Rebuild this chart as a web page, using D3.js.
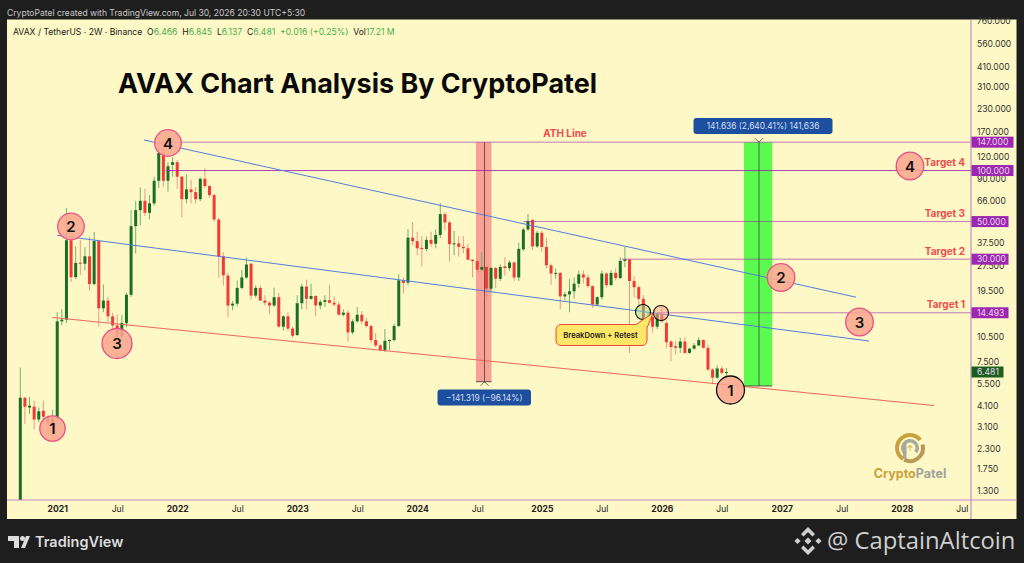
<!DOCTYPE html>
<html>
<head>
<meta charset="utf-8">
<script src="https://cdn.jsdelivr.net/npm/d3@7"></script>
<style>
  body { margin: 0; background: #1e1e1e; }
  svg { display: block; font-family: Inter, "Liberation Sans", sans-serif; }
</style>
</head>
<body>
<svg id="chart" width="1024" height="563"></svg>
<script>
// AVAX / USDT 2W candles
const opens = [1.0,4.57,4.0,4.05,3.4,3.83,3.53,3.22,3.47,12.9,13.2,38.8,23.5,28.6,28.2,31.2,21.4,38.4,15.4,17.1,13.8,12.2,10.5,12.6,18.5,47,58.4,66.3,56.3,64,87,127,87,108,112,92,67.8,77.4,74.6,67.8,89.4,81,71.6,51.4,31.2,24,16,16.4,20.3,23.4,28.2,18.3,20.3,17.1,16.6,16,17.9,12,13.8,11.7,10.7,16.5,20.7,17.5,18.2,16,16.8,17.2,16.6,16.2,14.1,14.5,11.1,12.9,14.1,12.9,12.1,10,9.3,8.7,9.9,10,12.1,22.5,21.8,40.2,38.3,35,34.4,39,37,41.7,55.3,49.4,36.8,37.2,35.5,34.8,29.8,29.2,26,27,20.1,26.6,23,27.2,26.6,28.7,23.4,34.3,44.9,51,35.7,42.9,35.4,27.6,24.7,24.9,18.1,18.6,19.4,21.5,24.4,23.4,20.8,16.2,17.9,24.7,21.1,24.9,23.2,29.3,29.9,22.3,20.5,17.5,13.2,13.7,12,14.3,12.6,9.8,9.2,9,9.8,8.4,8.9,9.3,10,9,6.7,6,6.8,6.466];
const highs = [6.88,4.6,4.62,4.39,4.0,4.39,3.6,3.88,14.6,15.2,60,40.5,35.7,38.8,35.3,40.6,43.4,39,21.3,18,14.5,14.2,14,19,58.4,66.3,79.5,78,71.6,92,147,145,112,120,115,93,95,88,80,91,103,82,73,52.6,33,25,17,22.5,26,30.7,28.5,21,21,18.4,17,20.4,19,14,14.6,12,18.4,21.5,22.7,21.5,18.4,17.3,18.4,21.2,18.1,16.8,15.2,15,13.3,15.7,14.8,13.5,12.3,11,9.5,11.6,10.1,12.5,24.4,23.4,45.2,49.6,43.5,41,41,43.5,45,64.5,57,50.5,44,41,41,37,30,30,33,27.5,27,27,28,30.7,29.6,29,37.6,46,55.3,52,44,44,40,28.2,26.4,25.2,19.2,23,23.4,25.8,25.8,24.4,21,18.1,25.6,25,25.8,26.5,30.9,35.4,30,23.8,21,18.4,14.6,14.3,14.6,15.8,13,10,9.9,10.3,10.4,9,9.6,10.4,10.1,9.4,6.8,7.1,7,6.845];
const lows = [0.9,3.2,3.67,2.97,3.27,3.33,2.8,2.72,3.2,12.2,12.6,22,22.9,24.1,25.8,19.6,21,12,14.6,12.8,11.4,9.5,9.9,11.9,18,32.4,47.5,54,51.4,62,79,80,75,92,78,53,64,64,64,66,79,69,50,23.4,21,13.6,15,15.8,20,23,17.4,17.8,17.1,16,14.3,15.7,11.9,11.4,11.3,10.4,10.6,15.2,15.2,17.3,13.8,15.2,15.7,16.4,15.8,14,13.8,9.8,10.8,12.7,12.4,11.9,9.6,9.1,8.6,8.5,8.7,9.8,11.9,18.8,21,36.2,31.6,27.2,33.5,35.5,34.8,40,44.5,29,31.6,31,32.5,29.6,23.4,25,25.5,17.1,19.4,20.3,22.3,24,25.6,22.3,22.3,33.5,44,33.9,35,33,26.5,21.2,23,15.2,17.1,14.6,17.5,20.4,21.5,20.4,15.5,15.9,17.3,20.4,20.8,22.5,23,26.9,8.4,17.9,15.7,13,12.6,11.1,11.6,12.7,9,7.5,8.2,8.4,8.3,8.3,8.8,9.2,8.9,6.6,5.5,5.9,6.3,6.137];
const closes = [4.57,4.04,4.1,3.4,3.8,3.53,3.22,3.45,12.9,13.2,38.8,23.5,28.5,28.2,31.2,21.4,38.4,15.4,17.1,13.8,12.2,10.5,12.6,18.5,47,58.4,66.3,56.3,64,87,127,87,106,112,92,67.8,77.4,74.6,67.8,89.4,81,71.6,51.4,31.2,24.1,16,16.4,20.3,23.4,27.9,18.3,20.3,17.1,16.6,16,17.9,12,13.8,11.7,10.6,16.5,20.7,17.5,18.2,16,16.8,17.2,16.6,16.2,14.1,14.5,11.1,12.9,14.1,12.9,12.1,10,9.3,8.7,9.9,10,12.1,22.5,21.7,40.2,38.3,34.8,34.4,39,37,41.7,55.3,49.4,36.8,37.2,35.5,34.8,29.8,29.2,26,27,20.1,26.6,23,27,26.6,28.7,23.4,34.5,44.9,50.5,35.7,42.9,35.4,27.6,24.7,24.9,18.1,18.6,19.4,21.5,24.4,23.4,20.8,16.2,17.9,24.7,21.1,24.9,23.2,29.3,29.9,22.3,20.5,17.5,13.2,13.6,12,14.3,12.9,9.7,9.1,9,9.8,8.4,8.9,9.3,10,9,6.7,6,6.8,6.4,6.481];

// axis ticks
const priceTicks = [760,560,410,310,230,170,120,90,66,37.5,27.5,19.5,10.5,7.5,5.5,4.1,3.1,2.3,1.75,1.3];
const timeTickBars = [8,21,34,47,60,73,86,99,113,126,139,152,165,178,191,204];
const timeTickLabels = ["2021","Jul","2022","Jul","2023","Jul","2024","Jul","2025","Jul","2026","Jul","2027","Jul","2028","Jul"];

// horizontal levels and where they start (bar index)
const levelPrices = [147,100,50,30,14.493];
const levelStarts = [30.5,31.5,109,130.3,138];

// trend lines as [bar, price] pairs
const redLine = [[6.9,13.6],[198,4.11]];
const blueLower = [[8,41.5],[183.9,9.87]];
const blueUpper = [[26.8,151.5],[181.1,17.9]];

const purple = "#9c27b0";
const upColor = "#1b6e24", downColor = "#f23b35";
const cream = "#fdf8c5";

const svg = d3.select("#chart");

// price goes on log scale, time on bar index
const x = d3.scaleLinear().domain([0, 204]).range([20.3, 961.8]);
const y = d3.scaleLog().domain([1.3, 760]).range([490.3, 21.2]);

// header
svg.append("text").attr("x", 7).attr("y", 16)
    .style("font-size", "8.55px").attr("fill", "#c9c9c9")
    .text("CryptoPatel created with TradingView.com, Jul 30, 2026 20:30 UTC+5:30");

// panel
svg.append("rect").attr("x", 7).attr("y", 19.5).attr("width", 1009.5).attr("height", 499.5).attr("fill", cream);
svg.append("defs").append("clipPath").attr("id", "plot")
    .append("rect").attr("x", 7).attr("y", 20).attr("width", 964).attr("height", 480);

// legend
const legend = svg.append("text").attr("x", 13).attr("y", 35).style("font-size", "8.6px");
[["AVAX / TetherUS · 2W · Binance  ", "#222"], ["O", "#222"], ["6.466  ", "#4caf50"], ["H", "#222"], ["6.845  ", "#4caf50"],
 ["L", "#222"], ["6.137  ", "#4caf50"], ["C", "#222"], ["6.481  ", "#4caf50"], ["+0.016 (+0.25%)  ", "#4caf50"],
 ["Vol", "#222"], ["17.21 M", "#4caf50"]].forEach(p => {
    legend.append("tspan").attr("fill", p[1]).attr("xml:space", "preserve").style("white-space", "pre").text(p[0]);
});

// title
svg.append("text").attr("x", 118).attr("y", 93)
    .style("font-size", "27px").style("font-weight", 700).attr("fill", "#0a0a0a")
    .attr("textLength", 479).attr("lengthAdjust", "spacingAndGlyphs")
    .text("AVAX Chart Analysis By CryptoPatel");

const plot = svg.append("g").attr("clip-path", "url(#plot)");

// measured range bands
plot.append("rect").attr("x", 476).attr("width", 15.5).attr("y", y(147)).attr("height", y(5.681) - y(147)).attr("fill", "#f9a294");
plot.append("rect").attr("x", 744).attr("width", 28.3).attr("y", y(147)).attr("height", y(5.364) - y(147)).attr("fill", "#5cfb50");

// candles
const candles = d3.range(opens.length);
plot.selectAll(".wick").data(candles).enter().append("line")
    .attr("class", "wick")
    .attr("x1", d => x(d)).attr("x2", d => x(d))
    .attr("y1", d => y(highs[d])).attr("y2", d => y(lows[d]))
    .attr("stroke", d => closes[d] >= opens[d] ? "#5fae62" : "#ea8f7d")
    .attr("stroke-width", 0.9);
plot.selectAll(".body").data(candles).enter().append("rect")
    .attr("class", "body")
    .attr("x", d => x(d) - 1.5).attr("width", 3)
    .attr("y", d => y(Math.max(opens[d], closes[d])))
    .attr("height", d => Math.max(1, Math.abs(y(opens[d]) - y(closes[d]))))
    .attr("fill", d => closes[d] >= opens[d] ? upColor : downColor);

// horizontal levels
levelPrices.forEach((p, i) => {
    plot.append("line").attr("x1", x(levelStarts[i])).attr("x2", 971)
        .attr("y1", y(p)).attr("y2", y(p))
        .attr("stroke", purple).attr("stroke-opacity", i == 1 ? 0.85 : 0.6).attr("stroke-width", 1);
});

// trend lines
const trend = d3.line().x(d => x(d[0])).y(d => y(d[1]));
plot.append("path").attr("d", trend(redLine)).attr("fill", "none").attr("stroke", "#f0655f").attr("stroke-width", 1);
plot.append("path").attr("d", trend(blueLower)).attr("fill", "none").attr("stroke", "#4f7fe0").attr("stroke-width", 1);
plot.append("path").attr("d", trend(blueUpper)).attr("fill", "none").attr("stroke", "#4f7fe0").attr("stroke-width", 1);

// range arrows
function rangeArrow(cx, x0, x1, from, to) {
    const dir = from > to ? 1 : -1;
    plot.append("line").attr("x1", cx + 0.5).attr("x2", cx + 0.5).attr("y1", y(from)).attr("y2", y(to)).attr("stroke", "#333").attr("stroke-width", 0.7);
    plot.append("path").attr("d", `M${cx - 3.5},${y(to) + 4 * dir}L${cx + 0.5},${y(to)}L${cx + 4.5},${y(to) + 4 * dir}`)
        .attr("fill", "none").attr("stroke", "#333").attr("stroke-width", 0.7);
    const base = Math.min(from, to);
    plot.append("line").attr("x1", x0).attr("x2", x1).attr("y1", y(base)).attr("y2", y(base)).attr("stroke", "#333").attr("stroke-width", 0.8);
}
rangeArrow(484, 476, 491.5, 147, 5.681);
rangeArrow(758.5, 744, 772.3, 5.364, 147);

// blue range labels
function rangeLabel(lx, ly, w, txt) {
    svg.append("rect").attr("x", lx).attr("y", ly).attr("width", w).attr("height", 16).attr("rx", 3).attr("fill", "#1c4f9f");
    svg.append("text").attr("x", lx + w / 2).attr("y", ly + 11).attr("text-anchor", "middle")
        .style("font-size", "8.4px").attr("fill", "#d5dff0").text(txt);
}
rangeLabel(693.5, 118, 139, "141.636 (2,640.41%) 141,636");
rangeLabel(437.5, 389.5, 93.5, "−141.319 (−96.14%)");

// text notes
function note(nx, ny, txt, anchor) {
    svg.append("text").attr("x", nx).attr("y", ny).attr("text-anchor", anchor || "end")
        .style("font-size", "10px").style("font-weight", 700).attr("fill", "#ef4c50").text(txt);
}
note(565, 137, "ATH Line", "middle");
note(965, 166, "Target 4");
note(965, 217, "Target 3");
note(965, 255, "Target 2");
note(965, 308, "Target 1");

// axes
const yAxis = d3.axisRight(y).tickValues(priceTicks).tickFormat(d3.format(".3f")).tickSize(0);
const yG = svg.append("g").attr("transform", "translate(971,0)").call(yAxis);
yG.select(".domain").remove();
yG.selectAll("text").attr("x", 6).attr("fill", "#333").style("font-size", "8.6px").style("font-family", "Inter, sans-serif");

const xAxis = d3.axisBottom(x).tickValues(timeTickBars).tickFormat((d, i) => timeTickLabels[i]).tickSize(0);
const xG = svg.append("g").attr("transform", "translate(0,500)").call(xAxis);
xG.select(".domain").remove();
xG.selectAll("text").attr("y", 6).attr("fill", "#222").style("font-family", "Inter, sans-serif")
    .style("font-size", "8.6px").style("font-weight", (d, i) => timeTickLabels[i] == "Jul" ? 400 : 700);

// axis separators
svg.append("line").attr("x1", 7).attr("x2", 1016.5).attr("y1", 500).attr("y2", 500).attr("stroke", "#c98ad0").attr("stroke-width", 1);
svg.append("line").attr("x1", 971).attr("x2", 971).attr("y1", 19.5).attr("y2", 519).attr("stroke", "#b57bc2").attr("stroke-width", 1);

// price tags on the axis
function priceTag(price, w, fill, txt) {
    svg.append("rect").attr("x", 971.5).attr("y", y(price) - 5.5).attr("width", w).attr("height", 11).attr("fill", fill);
    svg.append("text").attr("x", 977).attr("y", y(price) + 3).style("font-size", "8.6px").attr("fill", "#ead5ee").text(txt);
}
priceTag(147, 42, purple, "147.000");
priceTag(100, 42, purple, "100.000");
priceTag(50, 37, purple, "50.000");
priceTag(30, 37, purple, "30.000");
priceTag(14.493, 37, purple, "14.493");
priceTag(6.481, 32, "#1b5e20", "6.481");

// numbered circles
function badge(cx, cy, r, label, stroke) {
    svg.append("circle").attr("cx", cx).attr("cy", cy).attr("r", r)
        .attr("fill", "#f9a68f").attr("fill-opacity", 0.88)
        .attr("stroke", stroke).attr("stroke-width", 1.3);
    svg.append("text").attr("x", cx).attr("y", cy + 5.5).attr("text-anchor", "middle")
        .style("font-size", "15px").style("font-weight", 600).attr("fill", "#111").text(label);
}
const pink = "#e8518a";
badge(52.5, 428.5, 12.7, "1", pink);
badge(71, 226.5, 13.3, "2", pink);
badge(117, 343.5, 15, "3", pink);
badge(168, 143, 13.3, "4", pink);
badge(910, 166, 13.8, "4", pink);
badge(781, 277.5, 13.8, "2", pink);
badge(859.5, 322, 13.8, "3", pink);
badge(730.5, 390, 14, "1", "#111");

// breakdown and retest markers
svg.append("circle").attr("cx", 643).attr("cy", 312).attr("r", 7.5).attr("fill", "#8be08a").attr("fill-opacity", 0.45).attr("stroke", "#111").attr("stroke-width", 1.1);
svg.append("circle").attr("cx", 661).attr("cy", 313).attr("r", 7.5).attr("fill", "#f9a68f").attr("fill-opacity", 0.55).attr("stroke", "#111").attr("stroke-width", 1.1);

// callout
svg.append("path")
    .attr("d", "M561,324.5H636L653,313L647,328V340.5a5,5 0 0 1-5,5H561a5,5 0 0 1-5-5V329.5a5,5 0 0 1 5-5Z")
    .attr("fill", "#fde766").attr("stroke", "#f0453a").attr("stroke-width", 1);
svg.append("text").attr("x", 600.5).attr("y", 338).attr("text-anchor", "middle")
    .style("font-size", "7.6px").style("font-weight", 600).attr("fill", "#222").text("BreakDown + Retest");

// CryptoPatel logo
const logo = svg.append("g").attr("transform", "translate(910,448)");
const ring = d3.arc();
logo.append("path").attr("d", ring({ innerRadius: 11, outerRadius: 15, startAngle: -2.6, endAngle: 0.9 })).attr("fill", "#c9a23f");
logo.append("path").attr("d", ring({ innerRadius: 11, outerRadius: 15, startAngle: 1.3, endAngle: 3.6 })).attr("fill", "#b99a55");
logo.append("path").attr("d", ring({ innerRadius: 5.5, outerRadius: 9, startAngle: -2.5, endAngle: 2.2 })).attr("fill", "#a8a8a0");
logo.append("rect").attr("x", -7).attr("y", -4).attr("width", 3.5).attr("height", 15).attr("fill", "#a8a8a0");
logo.append("text").attr("x", 0).attr("y", 3).attr("text-anchor", "middle").style("font-size", "8px").attr("fill", "#c9a23f").text("\u2191");
const logoText = svg.append("text").attr("x", 910).attr("y", 478).attr("text-anchor", "middle")
    .style("font-size", "12.5px").style("font-weight", 700);
logoText.append("tspan").attr("fill", "#c9a23f").text("Crypto");
logoText.append("tspan").attr("fill", "#a3a39b").text("Patel");

// TradingView footer
const tv = svg.append("g").attr("fill", "#dcdcdc");
tv.append("path").attr("d", "M8,536H19V548H14V541H8Z");
tv.append("circle").attr("cx", 22.5).attr("cy", 538.5).attr("r", 2.5);
tv.append("path").attr("d", "M21,548L26,536H30L25,548Z");
svg.append("text").attr("x", 35).attr("y", 547).style("font-size", "14.5px").style("font-weight", 600)
    .attr("fill", "#dcdcdc").text("TradingView");

// watermark, binance style diamond
const bn = svg.append("g").attr("transform", "translate(808,541)").attr("fill", "#d0d0d0");
bn.append("path").attr("d", "M0,-14L7,-7L4.5,-4.5L0,-9L-4.5,-4.5L-7,-7Z");
bn.append("path").attr("d", "M0,14L7,7L4.5,4.5L0,9L-4.5,4.5L-7,7Z");
bn.append("rect").attr("x", -2.5).attr("y", -2.5).attr("width", 5).attr("height", 5).attr("transform", "rotate(45)");
bn.append("rect").attr("x", -2.2).attr("y", -2.2).attr("width", 4.4).attr("height", 4.4).attr("transform", "translate(-10.5,0) rotate(45)");
bn.append("rect").attr("x", -2.2).attr("y", -2.2).attr("width", 4.4).attr("height", 4.4).attr("transform", "translate(10.5,0) rotate(45)");
svg.append("text").attr("x", 827).attr("y", 549).style("font-family", "'Open Sans', sans-serif").style("font-size", "23.8px")
    .attr("fill", "#cfcfcf").text("@ CaptainAltcoin");
</script>
</body>
</html>
